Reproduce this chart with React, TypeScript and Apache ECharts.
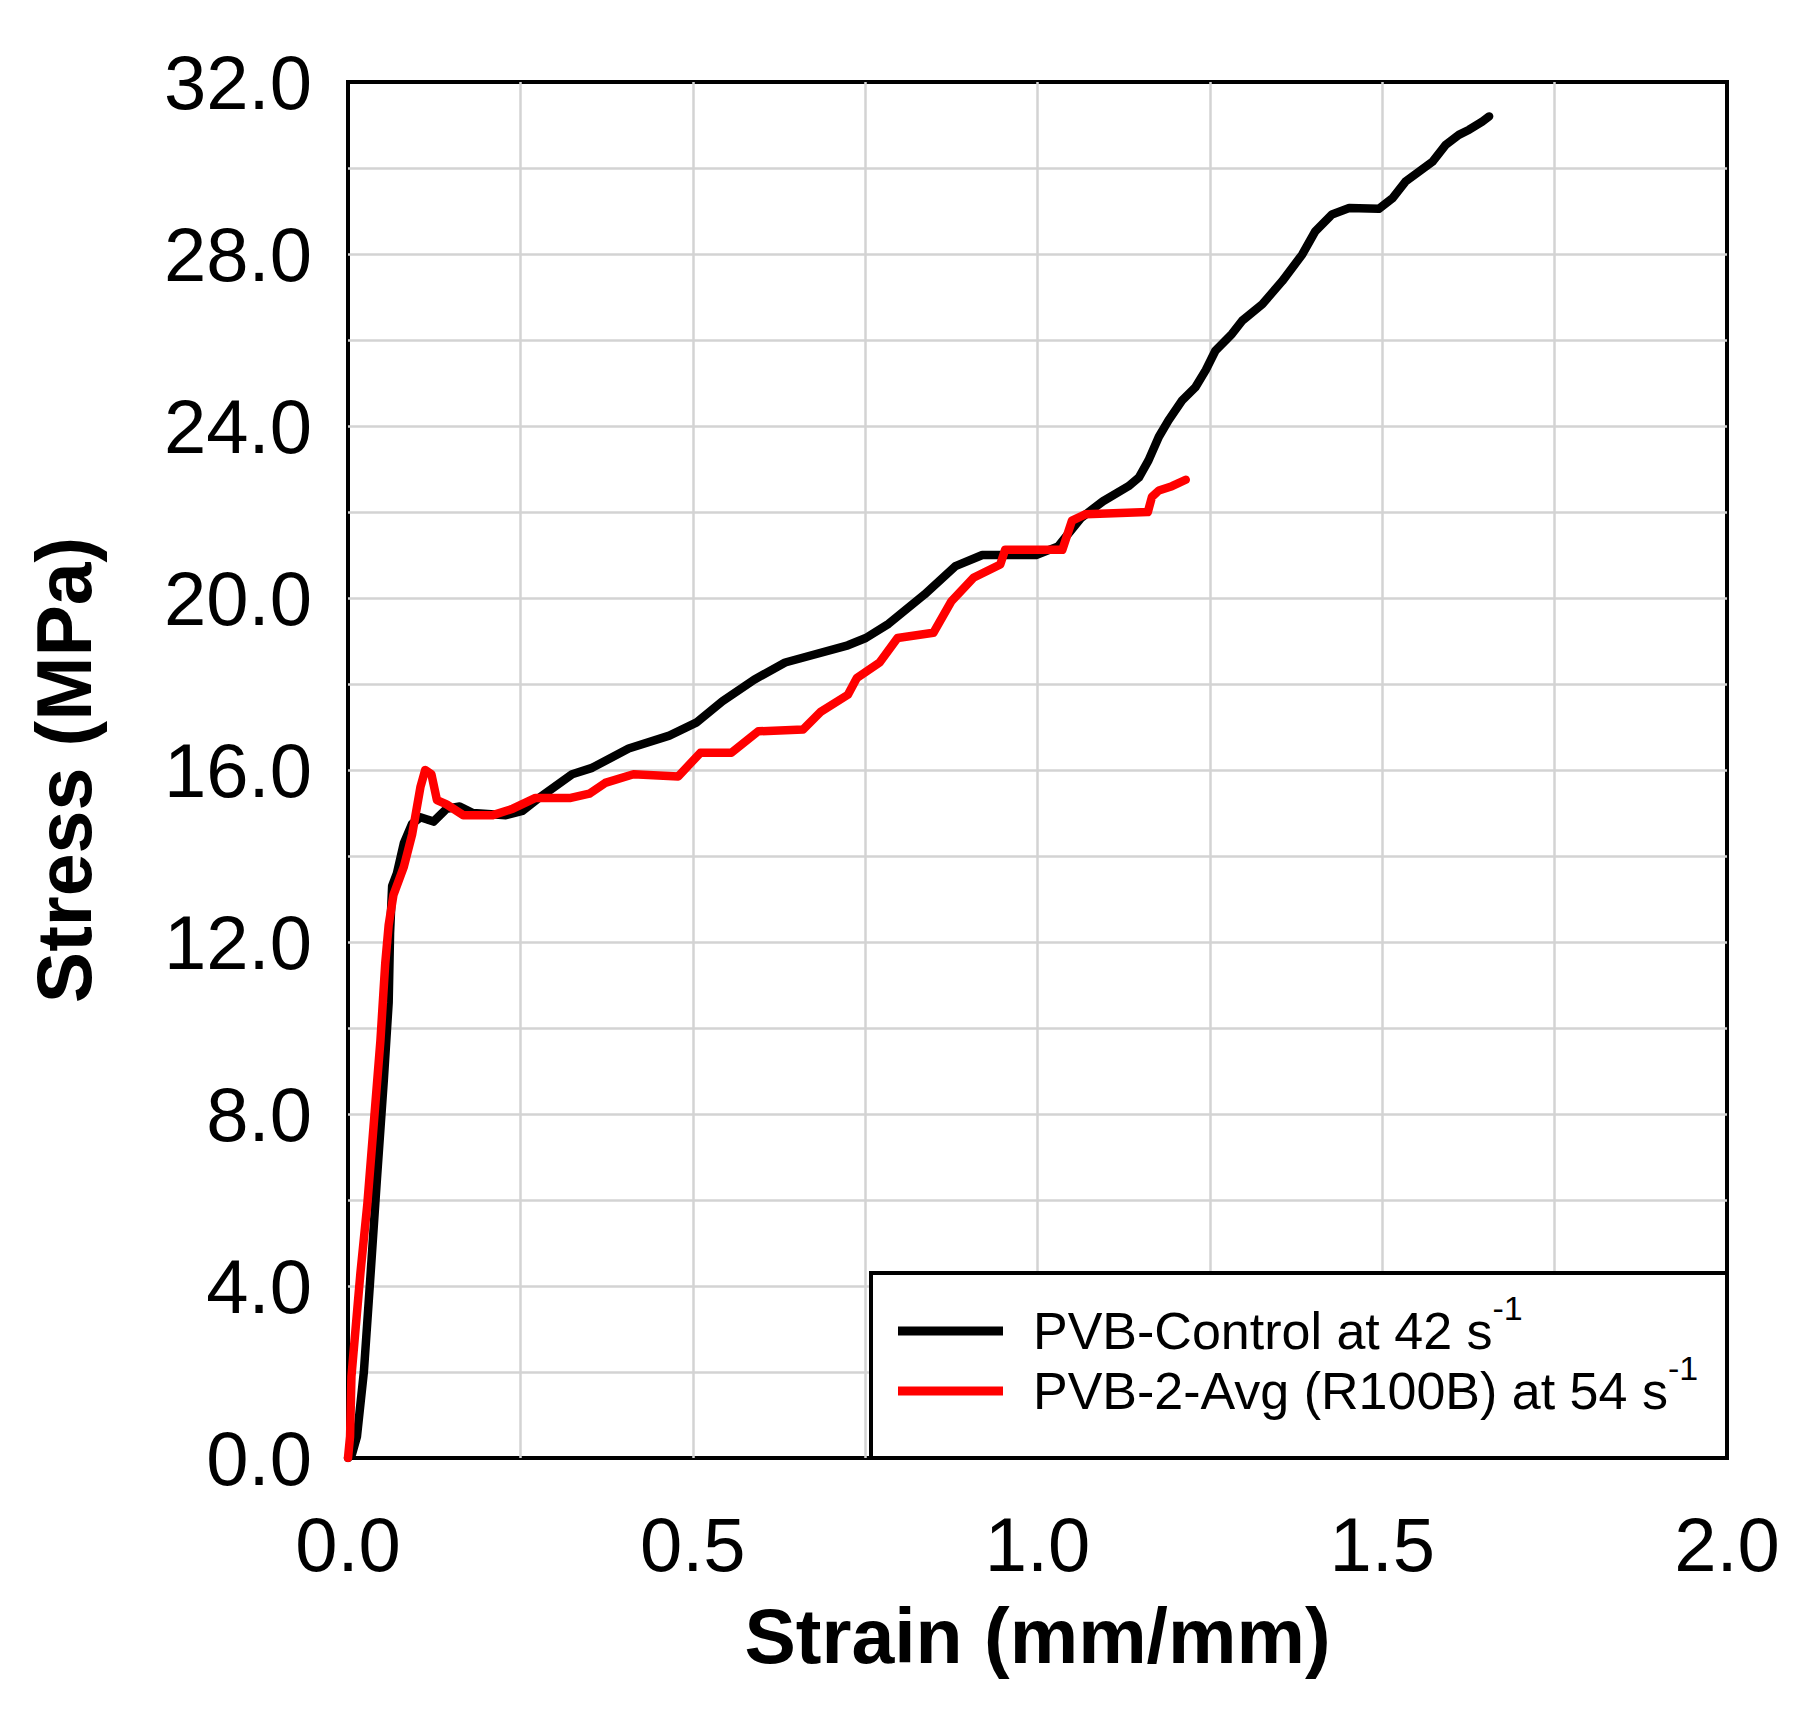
import React, { useEffect, useRef } from "react";
import * as echarts from "echarts";

// Strain (mm/mm) and stress (MPa)
const controlStrain = [
  0.0, 0.006, 0.013, 0.023, 0.032, 0.042, 0.052, 0.059, 0.061, 0.064, 0.071, 0.081, 0.093, 0.105,
  0.115, 0.124, 0.143, 0.162, 0.181, 0.229, 0.253, 0.277, 0.325, 0.354, 0.407, 0.466, 0.505, 0.543,
  0.589, 0.634, 0.725, 0.751, 0.784, 0.836, 0.881, 0.92, 0.998, 1.03, 1.063, 1.095, 1.132, 1.147,
  1.161, 1.176, 1.19, 1.21, 1.229, 1.244, 1.258, 1.282, 1.297, 1.326, 1.355, 1.384, 1.403, 1.427,
  1.452, 1.495, 1.515, 1.534, 1.573, 1.592, 1.611, 1.626, 1.645, 1.655,
];
const controlStress = [
  0.0, 0.1, 0.5, 2.0, 4.1, 6.5, 8.8, 10.6, 12.2, 13.3, 13.6, 14.3, 14.75, 14.9,
  14.85, 14.8, 15.1, 15.15, 15.0, 14.95, 15.05, 15.35, 15.9, 16.05, 16.5, 16.8, 17.1, 17.6,
  18.1, 18.5, 18.9, 19.07, 19.4, 20.08, 20.74, 21.0, 21.0, 21.2, 21.86, 22.25, 22.6, 22.8,
  23.2, 23.75, 24.13, 24.6, 24.9, 25.3, 25.75, 26.14, 26.45, 26.83, 27.37, 27.99, 28.53, 28.92,
  29.07, 29.05, 29.3, 29.69, 30.15, 30.54, 30.77, 30.89, 31.08, 31.2,
];
const avgStrain = [
  0.0, 0.003, 0.005, 0.018, 0.028, 0.037, 0.047, 0.054, 0.059, 0.066, 0.081, 0.093, 0.105, 0.112,
  0.121, 0.129, 0.143, 0.167, 0.21, 0.239, 0.272, 0.323, 0.35, 0.373, 0.414, 0.479, 0.511, 0.556,
  0.595, 0.66, 0.686, 0.725, 0.738, 0.771, 0.797, 0.849, 0.875, 0.907, 0.946, 0.953, 1.036, 1.05,
  1.07, 1.16, 1.166, 1.176, 1.195, 1.215,
];
const avgStress = [
  0.0, 0.5, 1.9, 4.3, 5.9, 7.7, 9.7, 11.5, 12.4, 13.1, 13.75, 14.5, 15.6, 16.0,
  15.9, 15.3, 15.2, 14.95, 14.95, 15.1, 15.35, 15.35, 15.45, 15.7, 15.9, 15.85, 16.4, 16.4,
  16.9, 16.94, 17.36, 17.75, 18.14, 18.5, 19.07, 19.19, 19.92, 20.47, 20.78, 21.12, 21.12, 21.8,
  21.95, 22.0, 22.35, 22.5, 22.6, 22.75,
];

const seriesNames = ["PVB-Control at 42 s-1", "PVB-2-Avg (R100B) at 54 s-1"];
const legendTexts = ["PVB-Control at 42 s", "PVB-2-Avg (R100B) at 54 s"];
const legendSup = "-1";
const seriesColors = ["#000000", "#ff0000"];

const xAxisTitle = "Strain (mm/mm)";
const yAxisTitle = "Stress (MPa)";
const xRange = [0, 2];
const yRange = [0, 32];
const xGridStep = 0.25;
const yGridStep = 2;
const xLabelStep = 0.5;
const yLabelStep = 4;

const FONT = "'Liberation Sans', Arial, sans-serif";

const zip = (xs: number[], ys: number[]) => xs.map((x, i) => [x, ys[i]]);

export default function App() {
  const ref = useRef<HTMLDivElement>(null);

  useEffect(() => {
    document.body.style.margin = "0";
    if (!ref.current) return;
    const chart = echarts.init(ref.current, undefined, { renderer: "svg" });

    const isStep = (v: number, step: number) =>
      Math.abs(v / step - Math.round(v / step)) < 1e-6;

    const legendRich = {
      t: {
        fontSize: 52,
        fontFamily: FONT,
        color: "#000",
        lineHeight: 80,
        padding: [0, 0, 0, 25],
      },
      sup: {
        fontSize: 34,
        fontFamily: FONT,
        color: "#000",
        lineHeight: 38,
        verticalAlign: "top",
      },
    };

    const makeLegend = (idx: number, top: number) => ({
      data: [seriesNames[idx]],
      left: 898,
      top,
      padding: 0,
      icon: "rect",
      itemWidth: 105,
      itemHeight: 9,
      selectedMode: false,
      z: 10,
      formatter: () => `{t|${legendTexts[idx]}}{sup|${legendSup}}`,
      textStyle: { rich: legendRich },
    });

    const option: any = {
      animation: false,
      backgroundColor: "#ffffff",
      grid: {
        left: 348,
        top: 82,
        right: 76,
        bottom: 257,
        show: true,
        borderColor: "#000",
        borderWidth: 4,
        backgroundColor: "transparent",
      },
      xAxis: {
        type: "value",
        min: xRange[0],
        max: xRange[1],
        interval: xGridStep,
        name: xAxisTitle,
        nameLocation: "middle",
        nameGap: 139,
        nameTextStyle: { fontSize: 77, fontWeight: "bold", fontFamily: FONT, color: "#000" },
        axisLine: { show: false },
        axisTick: { show: false },
        axisLabel: {
          margin: 48,
          fontSize: 76,
          fontFamily: FONT,
          color: "#000",
          formatter: (v: number) => (isStep(v, xLabelStep) ? v.toFixed(1) : ""),
        },
        splitLine: {
          show: true,
          showMinLine: false,
          showMaxLine: false,
          lineStyle: { color: "#d3d3d3", width: 2.5 },
        },
      },
      yAxis: {
        type: "value",
        min: yRange[0],
        max: yRange[1],
        interval: yGridStep,
        name: yAxisTitle,
        nameLocation: "middle",
        nameGap: 246,
        nameRotate: 90,
        nameTextStyle: { fontSize: 77, fontWeight: "bold", fontFamily: FONT, color: "#000" },
        axisLine: { show: false },
        axisTick: { show: false },
        axisLabel: {
          margin: 36,
          fontSize: 76,
          fontFamily: FONT,
          color: "#000",
          formatter: (v: number) => (isStep(v, yLabelStep) ? v.toFixed(1) : ""),
        },
        splitLine: {
          show: true,
          showMinLine: false,
          showMaxLine: false,
          lineStyle: { color: "#d3d3d3", width: 2.5 },
        },
      },
      legend: [makeLegend(0, 1291), makeLegend(1, 1351)],
      graphic: [
        {
          type: "rect",
          z: 5,
          silent: true,
          shape: { x: 871, y: 1273, width: 856, height: 185 },
          style: { fill: "#ffffff", stroke: "#000000", lineWidth: 4 },
        },
      ],
      series: [
        {
          name: seriesNames[0],
          type: "line",
          data: zip(controlStrain, controlStress),
          showSymbol: false,
          symbol: "none",
          color: seriesColors[0],
          itemStyle: { color: seriesColors[0] },
          lineStyle: { color: seriesColors[0], width: 8.5, join: "round", cap: "round" },
          z: 3,
        },
        {
          name: seriesNames[1],
          type: "line",
          data: zip(avgStrain, avgStress),
          showSymbol: false,
          symbol: "none",
          color: seriesColors[1],
          itemStyle: { color: seriesColors[1] },
          lineStyle: { color: seriesColors[1], width: 8.5, join: "round", cap: "round" },
          z: 4,
        },
      ],
    };

    chart.setOption(option);
    return () => chart.dispose();
  }, []);

  return <div ref={ref} style={{ width: 1803, height: 1715 }} />;
}
